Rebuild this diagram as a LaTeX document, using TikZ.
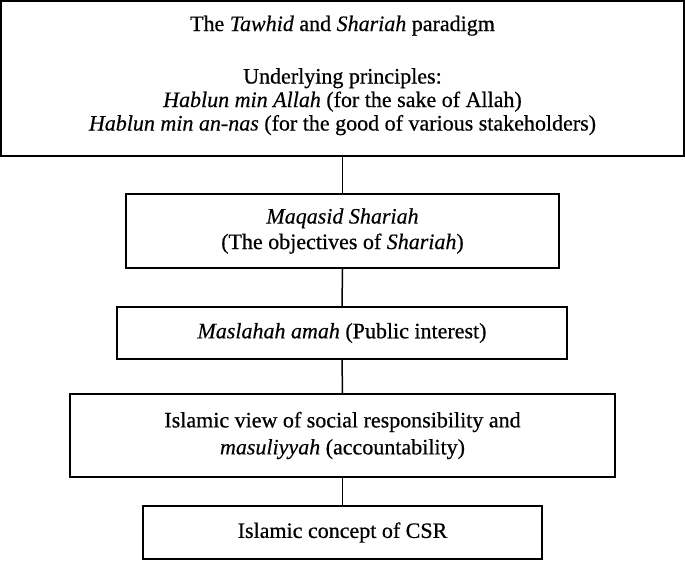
\documentclass[tikz,border=0pt]{standalone}
\usepackage{fontspec}
\setmainfont{Liberation Serif}[UprightFeatures={FakeBold=0.6},ItalicFeatures={FakeBold=0.35}]
\begin{document}
\begin{tikzpicture}[x=1pt,y=-1pt,
  box/.style={draw=black,line width=1.8pt,inner sep=0pt,align=center,
    font=\fontsize{22}{25.5}\selectfont},
  link/.style={draw=black,line width=1.5pt}]
\useasboundingbox (0,0) rectangle (685,561);
\node[box,minimum width=683pt,minimum height=155pt] (b1) at (342.5,78.5) {};
\node[align=center,inner sep=0pt,font=\fontsize{22}{23.5}\selectfont] (b1t) at (342.5,75.5)
  {The \textit{Tawhid} and \textit{Shariah} paradigm\\[29pt]
   Underlying principles:\\
   \textit{Hablun min Allah} (for the sake of Allah)\\
   \textit{Hablun min an-nas} (for the good of various stakeholders)};
\node[box,minimum width=433pt,minimum height=74pt] (b2) at (342.5,231)
  {\textit{Maqasid Shariah}\\(The objectives of \textit{Shariah})};
\node[box,minimum width=450pt,minimum height=52pt] (b3) at (342,333)
  {\textit{Maslahah amah} (Public interest)};
\node[box,minimum width=545pt,minimum height=83pt] (b4) at (342.5,435.5)
  {Islamic view of social responsibility and\\[1.5pt]\textit{masuliyyah} (accountability)};
\node[box,minimum width=399pt,minimum height=53pt] (b5) at (342.5,532.5)
  {Islamic concept of CSR};
\draw[link] (b1.south) -- (b2.north);
\draw[link] (b2.south) -- (b3.north);
\draw[link] (b3.south) -- (b4.north);
\draw[link] (b4.south) -- (b5.north);
\end{tikzpicture}
\end{document}
